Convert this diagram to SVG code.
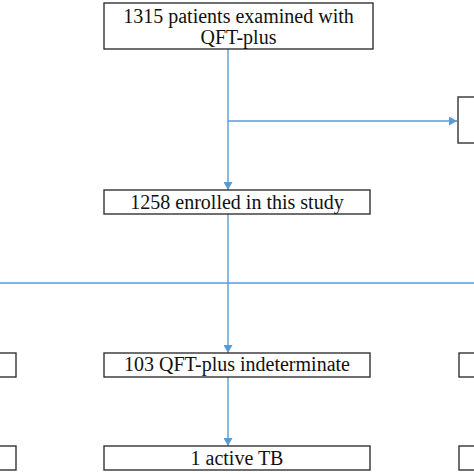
<svg xmlns="http://www.w3.org/2000/svg" width="474" height="474" viewBox="0 0 474 474">
<style>
.box{fill:#fff;stroke:#333;stroke-width:1.4}
.t{font-family:"Liberation Serif","Times New Roman",serif;font-size:20px;fill:#111;text-anchor:middle}
.c{stroke:#5b9bd5;stroke-width:1.4;fill:none}
</style>
<defs>
<marker id="ah" markerWidth="9" markerHeight="9" refX="8" refY="4.5" orient="auto" markerUnits="userSpaceOnUse">
<path d="M0,0 L8,4.5 L0,9 Z" fill="#5b9bd5"/>
</marker>
</defs>
<rect width="474" height="474" fill="#fff"/>
<g id="connectors">
<line class="c" x1="228" y1="49" x2="228" y2="190" marker-end="url(#ah)"/>
<line class="c" x1="228" y1="121" x2="457" y2="121" marker-end="url(#ah)"/>
<line class="c" x1="228" y1="214" x2="228" y2="353" marker-end="url(#ah)"/>
<line class="c" x1="0" y1="283" x2="474" y2="283"/>
<line class="c" x1="228" y1="377" x2="228" y2="446" marker-end="url(#ah)"/>
</g>
<g id="n1"><rect class="box" x="104" y="3" width="269" height="46"/>
<text class="t" x="238.5" y="23">1315 patients examined with</text>
<text class="t" x="238.5" y="44">QFT-plus</text></g>
<g id="n2"><rect class="box" x="458" y="97" width="30" height="46"/></g>
<g id="n3"><rect class="box" x="104" y="190" width="266" height="24"/>
<text class="t" x="237" y="209">1258 enrolled in this study</text></g>
<g id="n4"><rect class="box" x="-20" y="353" width="36" height="24"/></g>
<g id="n5"><rect class="box" x="104" y="353" width="266" height="24"/>
<text class="t" x="237" y="371">103 QFT-plus indeterminate</text></g>
<g id="n6"><rect class="box" x="459" y="353" width="30" height="24"/></g>
<g id="n7"><rect class="box" x="-20" y="446" width="36" height="24"/></g>
<g id="n8"><rect class="box" x="104" y="446" width="266" height="24"/>
<text class="t" x="237" y="465">1 active TB</text></g>
<g id="n9"><rect class="box" x="459" y="446" width="30" height="24"/></g>
</svg>
